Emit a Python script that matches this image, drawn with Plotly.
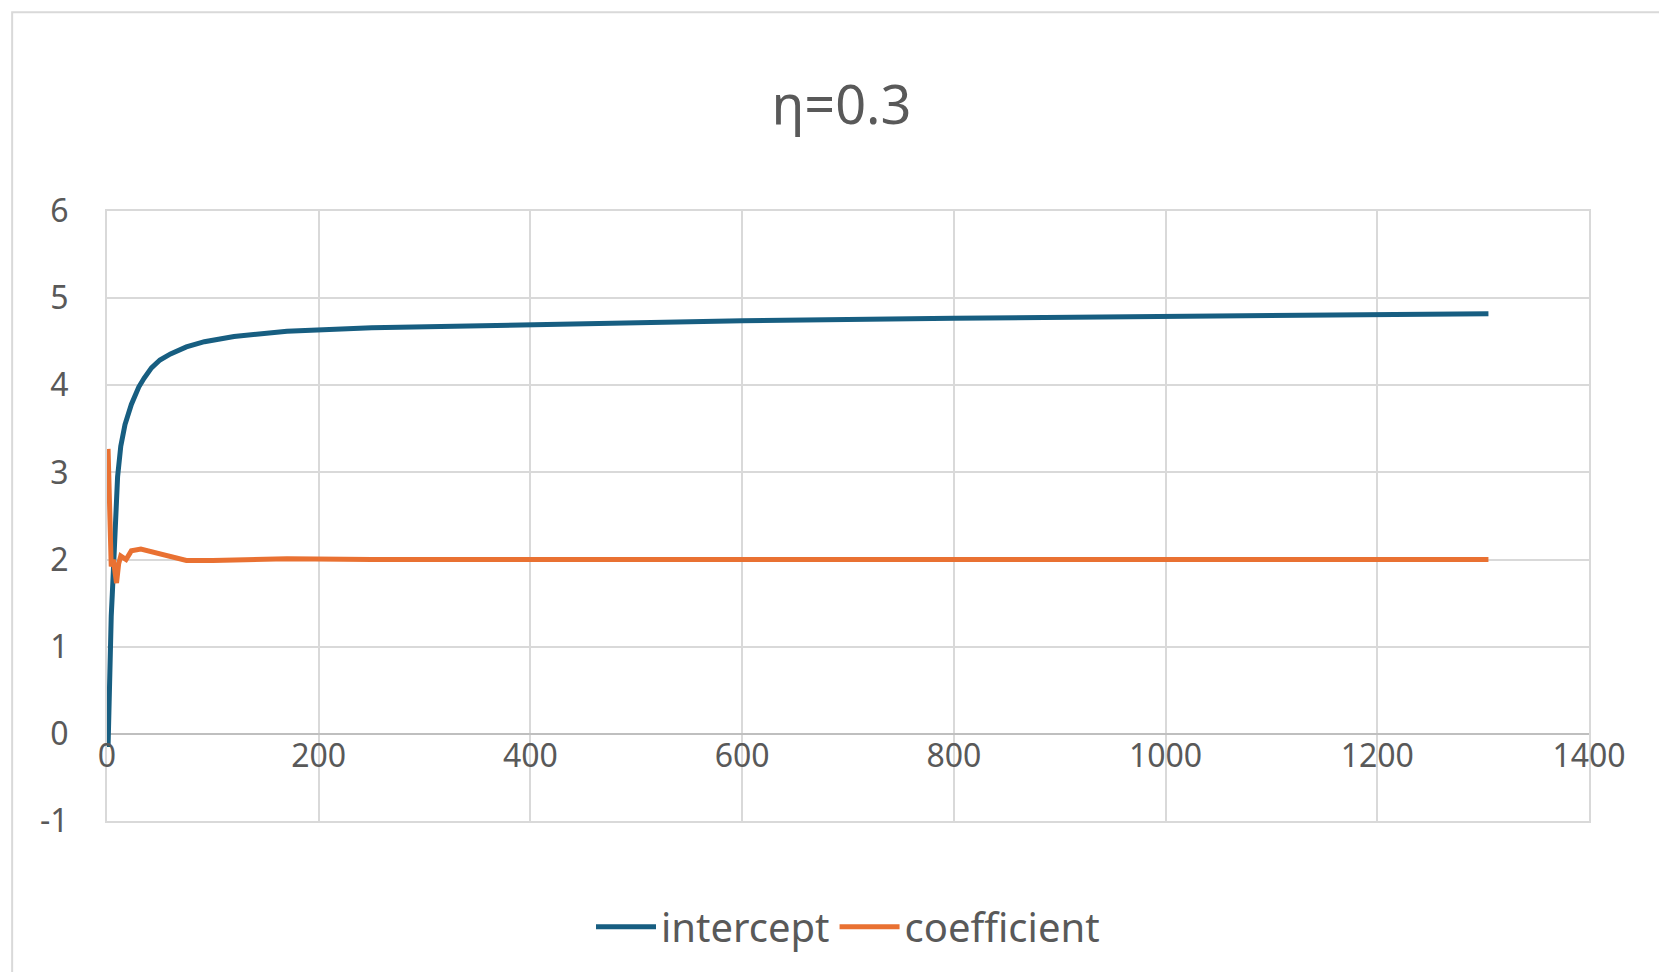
import plotly.graph_objects as go

# iteration index and parameter estimates
x_intercept = [1, 2, 3, 4, 5, 7, 10, 13, 17, 23, 30, 35, 42, 50, 60, 75, 92, 120, 170, 250, 400, 600, 800, 1000, 1200, 1305]
y_intercept = [-0.15, 0.5, 1.0, 1.35, 1.6, 2.2, 2.95, 3.3, 3.55, 3.78, 3.98, 4.08, 4.2, 4.29, 4.36, 4.44, 4.5, 4.56, 4.62, 4.66, 4.70, 4.74, 4.77, 4.79, 4.81, 4.82]

x_coef = [1, 2, 4, 6, 9, 11, 13, 18, 23, 32, 50, 75, 100, 170, 250, 400, 600, 800, 1000, 1200, 1305]
y_coef = [3.27, 2.7, 1.92, 2.0, 1.73, 1.95, 2.04, 2.0, 2.1, 2.12, 2.06, 1.99, 1.99, 2.01, 2.0, 2.0, 2.0, 2.0, 2.0, 2.0, 2.0]

y_ticks = [-1, 0, 1, 2, 3, 4, 5, 6]
x_ticks = [0, 200, 400, 600, 800, 1000, 1200, 1400]

FONT = "Noto Sans, Open Sans, sans-serif"
GREY = "#595959"

fig = go.Figure()
fig.add_trace(go.Scatter(x=x_intercept, y=y_intercept, mode="lines", name="intercept",
                         line=dict(color="#175E81", width=5)))
fig.add_trace(go.Scatter(x=x_coef, y=y_coef, mode="lines", name="coefficient",
                         line=dict(color="#E97132", width=5)))
# invisible trace on the second x axis so its tick labels are drawn
fig.add_trace(go.Scatter(x=[0, 1400], y=[None, None], xaxis="x2", showlegend=False,
                         hoverinfo="skip"))

fig.update_layout(
    title=dict(text="η=0.3", x=0.5, xanchor="center", y=0.9, yanchor="middle",
               font=dict(size=54, color=GREY, family=FONT)),
    width=1667, height=972,
    paper_bgcolor="white", plot_bgcolor="white",
    margin=dict(l=99, r=86, t=203, b=159),
    legend=dict(orientation="h", x=0.5, xanchor="center", y=-0.12, yanchor="top",
                font=dict(size=40, color=GREY, family=FONT), itemwidth=60),
    xaxis=dict(range=[0, 1400], tickvals=x_ticks, showticklabels=False, showgrid=True,
               gridcolor="#D9D9D9", gridwidth=2, zeroline=False, showline=True,
               linecolor="#D9D9D9", linewidth=2, mirror=True, ticks=""),
    xaxis2=dict(range=[0, 1400], tickvals=x_ticks, overlaying="x", anchor="free",
                position=1 / 7, showgrid=False, zeroline=False, showline=False, ticks="",
                tickfont=dict(size=32, color=GREY, family=FONT)),
    yaxis=dict(range=[-1, 6], tickvals=y_ticks, ticktext=[str(v) for v in y_ticks],
               showgrid=True, gridcolor="#D9D9D9", gridwidth=2,
               zeroline=True, zerolinecolor="#BFBFBF", zerolinewidth=2,
               showline=True, linecolor="#D9D9D9", linewidth=2, mirror=True,
               tickfont=dict(size=32, color=GREY, family=FONT), ticks="", ticklabelstandoff=30),
    shapes=[dict(type="rect", xref="paper", yref="paper", x0=-0.064, x1=1.056, y0=-0.253, y1=1.326,
                 line=dict(color="#D9D9D9", width=2))],
)

fig.write_html("out.html")
